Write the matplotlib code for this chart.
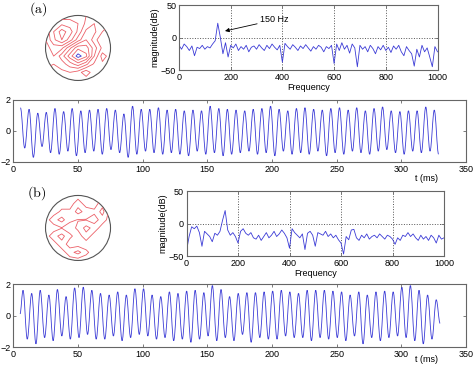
"""Two field patterns with their spectra and time signals, (a) and (b)."""

import matplotlib
matplotlib.use("Agg")
import matplotlib.pyplot as plt
import numpy as np
from matplotlib.patches import Circle, PathPatch
from matplotlib.path import Path

plt.rcParams["font.family"] = ["Liberation Sans", "DejaVu Sans"]
plt.rcParams["mathtext.fontset"] = "cm"

BLUE = "#3b3bd6"
RED = "#ec6068"
FRAME = "#666666"

# spectra, one value every 10 Hz from 0 to 1000 Hz (dB)
freq = list(range(0, 1001, 10))
spec_a = [-12, -18, -10, -14, -20, -13, -28, -15, -17, -12,
          -18, -14, -16, -10, -5, 22, 0, -25, -8, -30,
          -12, -16, -10, -20, -14, -18, -12, -22, -15, -13,
          -18, -11, -16, -20, -12, -17, -10, -15, -19, -12,
          -38, -9, -14, -18, -11, -15, -20, -13, -17, -11,
          -16, -21, -14, -18, -12, -15, -22, -14, -17, -12,
          -40, -10, -20, -8, -18, -12, -24, -10, -16, -45,
          -12, -18, -14, -22, -12, -17, -25, -14, -19, -12,
          -20, -15, -23, -13, -18, -12, -22, -28, -14, -20,
          -25, -44, -18, -30, -12, -22, -16, -30, -45, -14, -22]
spec_b = [-42, -20, -5, -8, -4, -14, -35, -12, -16, -20,
          -28, -15, -18, -12, 5, 20, -10, -18, -14, -20,
          -30, -12, -8, -15, -18, -14, -22, -24, -18, -26,
          -20, -14, -22, -18, -12, -20, -16, -10, -15, -22,
          -38, -8, -14, -18, -22, -16, -40, -15, -12, -18,
          -35, -14, -16, -18, -12, -20, -16, -22, -18, -25,
          -30, -47, -20, -25, -10, -9, -22, -26, -18, -22,
          -16, -24, -20, -18, -22, -16, -20, -24, -18, -20,
          -24, -32, -22, -26, -18, -20, -14, -20, -16, -22,
          -26, -18, -24, -20, -26, -18, -22, -30, -18, -24, -22]

# time signals given by their extrema (t in ms)
peak_t_a = [5.5, 12.2, 18.9, 25.5, 32.2, 38.9, 45.5, 52.2, 58.9, 65.5,
            72.2, 78.9, 85.5, 92.2, 98.9, 105.5, 112.2, 118.9, 125.5, 132.2,
            138.9, 145.5, 152.2, 158.9, 165.5, 172.2, 178.9, 185.5, 192.2, 198.9,
            205.5, 212.2, 218.9, 225.5, 232.2, 238.9, 245.5, 252.2, 258.9, 265.5,
            272.2, 278.9, 285.5, 292.2, 298.9, 305.5, 312.2, 318.9, 325.5]
peak_v_a = [1.5, 1.4, 1.15, 1.2, 1.45, 1.25, 1.45, 1.3, 1.35, 1.4,
            1.45, 1.35, 1.1, 1.6, 1.4, 1.4, 1.5, 1.35, 1.4, 1.3,
            1.35, 1.3, 1.6, 1.45, 1.4, 1.35, 1.3, 1.4, 1.45, 1.6,
            1.4, 1.3, 1.45, 1.5, 1.4, 1.35, 1.45, 1.5, 1.35, 1.5,
            1.3, 1.45, 1.55, 1.3, 1.25, 1.3, 1.3, 1.55, 1.35]
trough_t_a = [8.8, 15.5, 22.2, 28.8, 35.5, 42.2, 48.8, 55.5, 62.2, 68.8,
              75.5, 82.2, 88.8, 95.5, 102.2, 108.8, 115.5, 122.2, 128.8, 135.5,
              142.2, 148.8, 155.5, 162.2, 168.8, 175.5, 182.2, 188.8, 195.5, 202.2,
              208.8, 215.5, 222.2, 228.8, 235.5, 242.2, 248.8, 255.5, 262.2, 268.8,
              275.5, 282.2, 288.8, 295.5, 302.2, 308.8, 315.5, 322.2, 328.8]
trough_v_a = [-1.1, -1.7, -1.0, -1.4, -1.5, -1.3, -1.6, -1.4, -1.3, -1.5,
              -1.2, -1.4, -1.7, -1.5, -1.3, -1.4, -1.5, -1.4, -1.5, -1.6,
              -1.3, -1.5, -1.4, -1.6, -1.5, -1.4, -1.3, -1.5, -1.4, -1.6,
              -1.3, -1.5, -1.4, -1.5, -1.3, -1.6, -1.4, -1.5, -1.3, -1.4,
              -1.5, -1.3, -1.2, -1.4, -1.5, -1.3, -1.4, -1.3, -1.5]

peak_t_b = [7.5, 14.2, 20.8, 27.5, 34.1, 40.8, 47.4, 54.1, 60.7, 67.4,
            74.1, 80.7, 87.4, 94.0, 100.7, 107.3, 114.0, 120.7, 127.3, 134.0,
            140.6, 147.3, 153.9, 160.6, 167.2, 173.9, 180.6, 187.2, 193.9, 200.5,
            207.2, 213.8, 220.5, 227.2, 233.8, 240.5, 247.1, 253.8, 260.4, 267.1,
            273.7, 280.4, 287.1, 293.7, 300.4, 307.0, 313.7, 320.3, 327.0]
peak_v_b = [1.6, 1.4, 1.6, 1.3, 1.65, 1.2, 1.75, 1.8, 1.6, 1.4,
            1.3, 1.5, 1.3, 1.7, 1.7, 1.3, 1.2, 1.5, 1.4, 1.55,
            1.6, 1.45, 1.9, 1.65, 1.2, 1.4, 1.45, 1.45, 1.5, 1.55,
            1.6, 1.5, 1.4, 1.6, 1.6, 1.6, 1.55, 1.5, 1.3, 1.5,
            1.3, 1.5, 1.55, 1.5, 1.8, 1.9, 1.6, 1.3, 1.0]
trough_t_b = [5.2, 10.8, 17.5, 24.2, 30.8, 37.5, 44.1, 50.8, 57.4, 64.1,
              70.7, 77.4, 84.1, 90.7, 97.4, 104.0, 110.7, 117.3, 124.0, 130.7,
              137.3, 144.0, 150.6, 157.3, 163.9, 170.6, 177.2, 183.9, 190.6, 197.2,
              203.9, 210.5, 217.2, 223.8, 230.5, 237.2, 243.8, 250.5, 257.1, 263.8,
              270.4, 277.1, 283.8, 290.4, 297.1, 303.7, 310.4, 317.0, 323.7, 330.0]
trough_v_b = [0.1, -1.5, -1.8, -1.4, -1.6, -1.3, -1.5, -1.4, -1.2, -1.5,
              -1.5, -1.3, -1.6, -1.4, -1.2, -1.3, -1.5, -1.4, -1.6, -1.5,
              -1.7, -1.5, -1.3, -1.6, -1.4, -1.6, -1.2, -1.7, -1.4, -1.5,
              -1.5, -1.3, -1.4, -1.4, -1.6, -1.4, -1.5, -1.4, -1.6, -1.3,
              -1.8, -1.4, -1.6, -1.4, -1.3, -1.4, -1.6, -1.8, -1.5, -0.5]

# coarse field samples over the disc, rows top to bottom
field_a = [[0.2, 0.2, 0.3, 0.4, 0.5, 0.2, 0.0, 0.0, 0.0],
           [0.3, 0.6, 0.9, 0.8, 0.6, 0.1, -0.2, 0.0, 0.2],
           [0.3, 1.0, 1.6, 1.2, 0.5, -0.3, -0.3, 0.2, 0.4],
           [0.2, 0.9, 1.4, 0.8, 0.0, -0.6, 0.0, 0.6, 0.5],
           [0.0, 0.4, 0.3, -0.5, -1.3, -1.2, -0.4, 0.3, 0.3],
           [0.0, 0.2, -0.4, -1.2, -2.0, -1.5, -0.2, 0.8, 0.4],
           [0.1, 0.2, 0.0, -0.4, -0.8, -0.3, 0.3, 0.5, 0.3],
           [0.3, 0.4, 0.3, 0.2, 0.4, 0.9, 0.3, 0.2, 0.2],
           [0.3, 0.3, 0.3, 0.3, 0.3, 0.3, 0.3, 0.3, 0.3]]
field_b = [[-1, -1, -1, -1, -1, -1, -1, -1, -1],
           [-1, -1, -1, -1, 0.2, -1, -1, 0.2, -1],
           [-1, -1, -0.2, -0.2, 1.0, 0.2, -0.2, 1.0, -1],
           [-1, 0.2, 1.0, -0.2, -0.5, -0.5, -1, 0.1, -1],
           [-1, -1, -0.5, -1, -0.2, 1.0, 0.2, -1, -1],
           [-1, 0.2, 1.0, -0.2, -1, 0.2, -1, -1, -1],
           [-1, -1, 0.2, -1, -1, -1, -1, -1, -1],
           [-1, -1, -1, 0.2, 1.0, -0.2, -1, -1, -1],
           [-1, -1, -1, -1, -1, -1, -1, -1, -1]]


def frame(ax):
    for s in ax.spines.values():
        s.set_color(FRAME)
        s.set_linewidth(0.8)
    ax.tick_params(direction="in", top=True, right=True, length=2.5,
                   width=0.6, color=FRAME, labelsize=6.5, pad=2)


def draw_disc(rect, field, red_levels, blue_levels):
    ax = fig.add_axes(rect)
    grid = np.linspace(-1, 1, 9)
    z = np.array(field)
    ax.add_patch(Circle((0, 0), 1.0, fill=False, ec="#555555", lw=0.8))
    cs = ax.contour(grid, grid[::-1], z, levels=red_levels, colors=RED,
                    linewidths=0.6, negative_linestyles="solid")
    cs.set_clip_path(Circle((0, 0), 1.0, transform=ax.transData))
    if blue_levels:
        cb = ax.contour(grid, grid[::-1], z, levels=blue_levels, colors=BLUE,
                        linewidths=0.6, negative_linestyles="solid")
        cb.set_clip_path(Circle((0, 0), 1.0, transform=ax.transData))
    ax.set_xlim(-1.05, 1.05)
    ax.set_ylim(-1.05, 1.05)
    ax.set_aspect("equal")
    ax.axis("off")


def draw_spectrum(rect, values):
    ax = fig.add_axes(rect)
    ax.plot(freq, values, color=BLUE, lw=0.6)
    ax.set_xlim(0, 1000)
    ax.set_ylim(-50, 50)
    ax.set_xticks([0, 200, 400, 600, 800, 1000])
    ax.set_yticks([-50, 0, 50])
    ax.grid(True, linestyle=":", color="#555555", lw=0.7)
    frame(ax)
    ax.set_xlabel("Frequency", fontsize=6.5, labelpad=1)
    ax.set_ylabel("magnitude(dB)", fontsize=6.5, labelpad=1)
    return ax


def draw_signal(rect, pt, pv, tt, tv, label_y):
    ax = fig.add_axes(rect)
    t = np.array(pt + tt)
    v = np.array(pv + tv)
    order = np.argsort(t)
    t, v = t[order], v[order]
    # smooth curve through the extrema: one cubic segment per half cycle
    verts = [(t[0], v[0])]
    codes = [Path.MOVETO]
    for i in range(1, len(t)):
        d = 0.36 * (t[i] - t[i - 1])
        verts += [(t[i - 1] + d, v[i - 1]), (t[i] - d, v[i]), (t[i], v[i])]
        codes += [Path.CURVE4] * 3
    ax.add_patch(PathPatch(Path(verts, codes), fill=False, ec=BLUE, lw=0.6))
    ax.set_xlim(0, 350)
    ax.set_ylim(-2, 2)
    ax.set_xticks(range(0, 351, 50))
    ax.set_yticks([-2, 0, 2])
    frame(ax)
    ax.set_xlabel("t (ms)", fontsize=6.5)
    ax.xaxis.set_label_coords(0.912, label_y)
    return ax


fig = plt.figure(figsize=(4.74, 3.66), dpi=100)

draw_disc([0.0926, 0.7757, 0.144, 0.1865], field_a,
          [-1.4, -1.0, -0.6, -0.2, 0.2, 0.6, 1.0, 1.4], [-1.8])
draw_disc([0.0926, 0.2839, 0.144, 0.1865], field_b, [-0.45, 0.6], None)

sa = draw_spectrum([0.3776, 0.8087, 0.5454, 0.1776], spec_a)
sa.annotate("150 Hz", xy=(178, 10), xytext=(313, 27), fontsize=6.5,
            ha="left", va="center",
            arrowprops=dict(arrowstyle="-|>", color="k", lw=0.6,
                            mutation_scale=6, shrinkA=0, shrinkB=0))
draw_spectrum([0.3935, 0.3005, 0.5432, 0.1776], spec_b)

draw_signal([0.0281, 0.5574, 0.955, 0.1694],
            peak_t_a, peak_v_a, trough_t_a, trough_v_a, -0.19)
draw_signal([0.0281, 0.0519, 0.955, 0.1721],
            peak_t_b, peak_v_b, trough_t_b, trough_v_b, -0.12)

fig.text(0.080, 0.975, r"$\mathrm{(a)}$", fontsize=10, ha="center", va="center")
fig.text(0.078, 0.473, r"$\mathrm{(b)}$", fontsize=10, ha="center", va="center")

fig.savefig("out.png", dpi=100)
